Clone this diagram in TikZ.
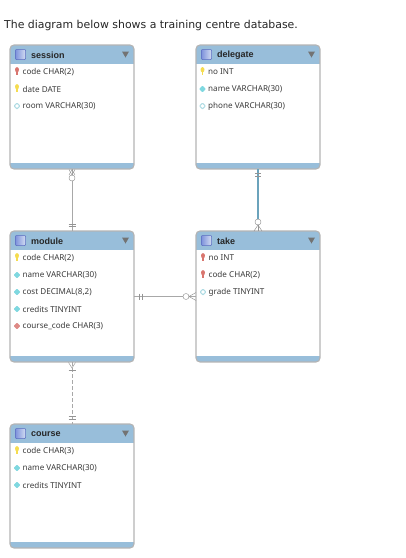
\documentclass[tikz,border=0pt]{standalone}
\usepackage{fontspec}
\setmainfont{Noto Sans}
\newfontfamily\titlefont{DejaVu Sans}
\newfontfamily\headfont{Liberation Sans}
\usetikzlibrary{calc}
\definecolor{hdr}{HTML}{98BEDA}
\definecolor{edge}{HTML}{B4B4B4}
\definecolor{link}{HTML}{A8A8A8}
\definecolor{blink}{HTML}{6BA3BC}
\definecolor{txt}{HTML}{3A3A3A}
\definecolor{keyred}{HTML}{D9766F}
\definecolor{keyyel}{HTML}{F5DC50}
\definecolor{diacy}{HTML}{7FD8E0}
\definecolor{diaopen}{HTML}{B0DCE4}
\definecolor{diared}{HTML}{DE8A86}
\definecolor{iconl}{HTML}{7F93DC}
\definecolor{iconr}{HTML}{D3DDF2}
\definecolor{iconb}{HTML}{5A6CC0}
\tikzset{
  x=1pt,y=-1pt,
  tablebox/.style={minimum width=124pt,inner sep=0pt,outer sep=0pt,anchor=north west},
  tablefr/.style={draw=edge,line width=1.1pt,rounded corners=4pt},
  rowtext/.style={anchor=west,inner sep=0pt,font=\fontsize{8.1}{10}\selectfont,text=txt},
  headtext/.style={anchor=west,inner sep=0pt,font=\headfont\fontsize{9}{11}\selectfont\bfseries,text=black!85},
  rel/.style={draw=link,line width=.8pt},
  relb/.style={draw=blink,line width=1.1pt},
  tick/.style={draw=black!42,line width=.45pt},
}
\newcommand{\tbl}[5]{% name,x,y,h,title
  \node[tablebox,minimum height=#4pt] (#1) at (#2,#3) {};
  \begin{scope}
    \clip[rounded corners=4pt] (#1.north west) rectangle (#1.south east);
    \fill[hdr] (#1.north west) rectangle ($(#1.north east)+(0,19)$);
    \fill[hdr] ($(#1.south west)+(0,-6.5)$) rectangle (#1.south east);
  \end{scope}
  \draw[tablefr] (#1.north west) rectangle (#1.south east);
  \shade[left color=iconl,right color=iconr,draw=iconb,line width=.5pt,rounded corners=.8pt] ($(#1.north west)+(5.5,4.5)$) rectangle ++(10,10);
  \fill[black!55] ($(#1.north east)+(-12,6.5)$) -- ++(7,0) -- ++(-3.5,6) -- cycle;
  \node[headtext] (#1t) at ($(#1.north west)+(21,9.8)$) {#5};
}
% x y colour text
\newcommand{\keyrow}[4]{%
  \fill[#3] (#1,#2-2.3) ellipse (2 and 2.6);
  \fill[#3] (#1-.9,#2-1) rectangle (#1+.9,#2+2.8);
  \node[rowtext] at (#1+5.5,#2) {#4};
}
\newcommand{\diarow}[4]{%
  \fill[#3,rounded corners=.6pt] (#1,#2-3.4) -- (#1+3.4,#2) -- (#1,#2+3.4) -- (#1-3.4,#2) -- cycle;
  \node[rowtext] at (#1+5.5,#2) {#4};
}
\newcommand{\openrow}[3]{%
  \draw[diaopen,line width=1.1pt,fill=white,rounded corners=.5pt] (#1,#2-2.8) -- (#1+2.8,#2) -- (#1,#2+2.8) -- (#1-2.8,#2) -- cycle;
  \node[rowtext] at (#1+5.5,#2) {#3};
}
\begin{document}
\begin{tikzpicture}
\useasboundingbox (0,0) rectangle (406,558);
\fill[white] (0,0) rectangle (406,558);
\node[anchor=west,inner sep=0pt,font=\titlefont\fontsize{10.9}{13}\selectfont,text=black!85] (cap) at (4,25) {The diagram below shows a training centre database.};

\tbl{session}{10}{45}{124}{session}
\tbl{delegate}{196}{45}{124}{delegate}
\tbl{module}{10}{231}{131}{module}
\tbl{take}{196}{231}{131}{take}
\tbl{course}{10}{424}{124}{course}

\keyrow{17}{72}{keyred}{code CHAR(2)}
\keyrow{17}{89}{keyyel}{date DATE}
\openrow{17}{106}{room VARCHAR(30)}

\keyrow{202.5}{72}{keyyel}{no INT}
\diarow{202.5}{89}{diacy}{name VARCHAR(30)}
\openrow{202.5}{106}{phone VARCHAR(30)}

\keyrow{17}{258}{keyyel}{code CHAR(2)}
\diarow{17}{275}{diacy}{name VARCHAR(30)}
\diarow{17}{292}{diacy}{cost DECIMAL(8,2)}
\diarow{17}{309}{diacy}{credits TINYINT}
\diarow{17}{326}{diared}{course\_code CHAR(3)}

\keyrow{203}{258}{keyred}{no INT}
\keyrow{203}{275}{keyred}{code CHAR(2)}
\openrow{203}{292}{grade TINYINT}

\keyrow{17}{451}{keyyel}{code CHAR(3)}
\diarow{17}{468}{diacy}{name VARCHAR(30)}
\diarow{17}{485}{diacy}{credits TINYINT}

% session -- module
\draw[rel] (session.south) -- (module.north);
\draw[tick,fill=white] ($(session.south)+(0,9)$) circle (3);
\draw[tick] ($(session.south)+(-3,0.5)$) -- ($(session.south)+(0,6)$) -- ($(session.south)+(3,0.5)$);
\draw[tick] ($(session.south)+(-3,6)$) -- ($(session.south)+(0,0.5)$) -- ($(session.south)+(3,6)$);
\draw[tick] ($(module.north)+(-3.5,-7)$) -- ($(module.north)+(3.5,-7)$);
\draw[tick] ($(module.north)+(-3.5,-4.5)$) -- ($(module.north)+(3.5,-4.5)$);

% delegate -- take
\draw[relb] (delegate.south) -- ($(take.north)+(0,-6)$) coordinate (tk);
\draw[tick] ($(delegate.south)+(-3,4.5)$) -- ($(delegate.south)+(3,4.5)$);
\draw[tick] ($(delegate.south)+(-3,7)$) -- ($(delegate.south)+(3,7)$);
\draw[tick,fill=white] ($(take.north)+(0,-9)$) circle (3);
\draw[tick] ($(take.north)+(-4,0)$) -- ($(take.north)+(0,-6)$) -- ($(take.north)+(4,0)$);
\draw[tick] ($(take.north)+(0,-6)$) -- (take.north);

% module -- take
\draw[rel,line width=.7pt] (module.east) -- (take.west);
\draw[tick] ($(module.east)+(5,-3)$) -- ($(module.east)+(5,3)$);
\draw[tick] ($(module.east)+(8,-3)$) -- ($(module.east)+(8,3)$);
\draw[tick,fill=white] ($(take.west)+(-10,0)$) circle (3);
\draw[tick] ($(take.west)+(0,-4)$) -- ($(take.west)+(-7,0)$) -- ($(take.west)+(0,4)$);

% module -- course
\draw[rel,line width=.7pt,dash pattern=on 3.5pt off 2.5pt] (module.south) -- (course.north);
\draw[tick] ($(module.south)+(-3.5,0.5)$) -- ($(module.south)+(0,6)$) -- ($(module.south)+(3.5,0.5)$);
\draw[tick] ($(module.south)+(-3.5,8)$) -- ($(module.south)+(3.5,8)$);
\draw[tick] ($(course.north)+(-3.5,-8)$) -- ($(course.north)+(3.5,-8)$);
\draw[tick] ($(course.north)+(-3.5,-5)$) -- ($(course.north)+(3.5,-5)$);
\end{tikzpicture}
\end{document}
